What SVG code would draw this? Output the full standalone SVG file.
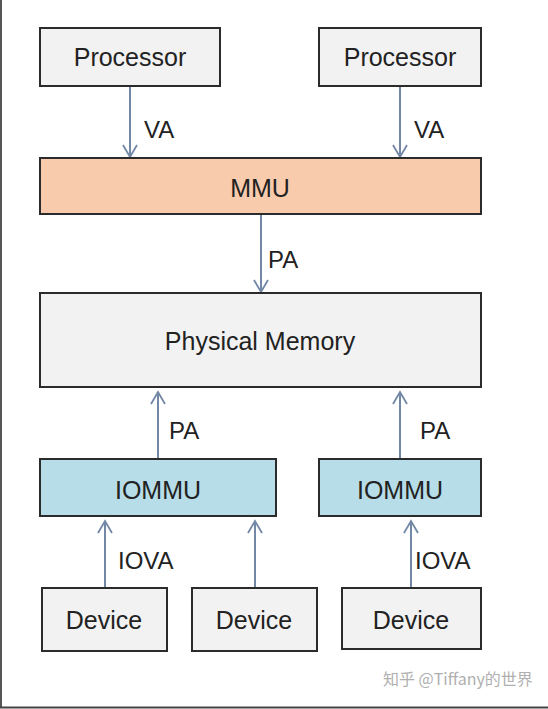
<svg xmlns="http://www.w3.org/2000/svg" width="548" height="709" viewBox="0 0 548 709">
<defs>
<style>
.box{stroke:#2b2b2b;stroke-width:2}
.gray{fill:#f2f2f2}
.mmu{fill:#f9cbad}
.io{fill:#b7dde8}
.t{font-family:"Liberation Sans",Arial,sans-serif;font-size:25px;fill:#222;text-anchor:middle}
.l{font-family:"Liberation Sans",Arial,sans-serif;font-size:24px;fill:#222}
.c{stroke:#7388a6;stroke-width:2;fill:none}
</style>
<marker id="ah" markerWidth="16" markerHeight="16" refX="13" refY="8" orient="auto" markerUnits="userSpaceOnUse">
<path d="M1,1 L13,8 L1,15" fill="none" stroke="#7388a6" stroke-width="1.8"/>
</marker>
</defs>
<rect width="548" height="709" fill="#ffffff"/>
<line x1="1" y1="0" x2="1" y2="708" stroke="#555" stroke-width="2"/>
<line x1="0" y1="707.5" x2="548" y2="707.5" stroke="#444" stroke-width="2"/>
<g id="connectors">
<line class="c" x1="130" y1="87" x2="130" y2="157" marker-end="url(#ah)"/>
<line class="c" x1="400" y1="87" x2="400" y2="157" marker-end="url(#ah)"/>
<line class="c" x1="261" y1="214" x2="261" y2="292" marker-end="url(#ah)"/>
<line class="c" x1="158" y1="459" x2="158" y2="392" marker-end="url(#ah)"/>
<line class="c" x1="400" y1="459" x2="400" y2="392" marker-end="url(#ah)"/>
<line class="c" x1="105" y1="587" x2="105" y2="521" marker-end="url(#ah)"/>
<line class="c" x1="255" y1="587" x2="255" y2="521" marker-end="url(#ah)"/>
<line class="c" x1="411" y1="587" x2="411" y2="521" marker-end="url(#ah)"/>
<text class="l" x="144" y="138">VA</text>
<text class="l" x="414" y="138">VA</text>
<text class="l" x="268" y="268">PA</text>
<text class="l" x="169" y="439">PA</text>
<text class="l" x="420" y="439">PA</text>
<text class="l" x="118" y="569">IOVA</text>
<text class="l" x="415" y="569">IOVA</text>
</g>
<g id="processor1"><rect class="box gray" x="40" y="28" width="180" height="58"/><text class="t" x="130" y="66">Processor</text></g>
<g id="processor2"><rect class="box gray" x="319" y="28" width="162" height="58"/><text class="t" x="400" y="66">Processor</text></g>
<g id="mmu"><rect class="box mmu" x="40" y="158" width="441" height="56"/><text class="t" x="260" y="197">MMU</text></g>
<g id="memory"><rect class="box gray" x="40" y="293" width="441" height="94"/><text class="t" x="260" y="350">Physical Memory</text></g>
<g id="iommu1"><rect class="box io" x="40" y="459" width="236" height="57"/><text class="t" x="158" y="499">IOMMU</text></g>
<g id="iommu2"><rect class="box io" x="319" y="459" width="162" height="57"/><text class="t" x="400" y="499">IOMMU</text></g>
<g id="device1"><rect class="box gray" x="42" y="588" width="125" height="63"/><text class="t" x="104" y="629">Device</text></g>
<g id="device2"><rect class="box gray" x="192" y="588" width="125" height="63"/><text class="t" x="254" y="629">Device</text></g>
<g id="device3"><rect class="box gray" x="342" y="588" width="139" height="61"/><text class="t" x="411" y="629">Device</text></g>
<text x="383" y="685" font-family="'Noto Sans CJK SC','Liberation Sans',sans-serif" font-size="16" fill="#b0b0b0">知乎 @Tiffany的世界</text>
</svg>
